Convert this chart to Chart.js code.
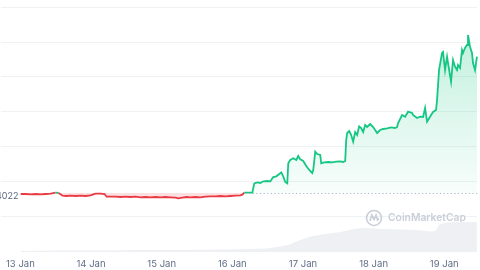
<!DOCTYPE html>
<html>
<head>
<meta charset="utf-8">
<script src="https://cdn.jsdelivr.net/npm/chart.js@4/dist/chart.umd.min.js"></script>
<style>
  html, body { margin: 0; padding: 0; background: #ffffff; }
  #wrap { width: 480px; height: 270px; position: relative; }
</style>
</head>
<body>
<div id="wrap"><canvas id="c" width="480" height="270"></canvas></div>
<script>
// ---- data (hours since 13 Jan 00:00) ----
const DAY_HOURS = [0, 24, 48, 72, 96, 120, 144];
const DAY_LABELS = ["13 Jan", "14 Jan", "15 Jan", "16 Jan", "17 Jan", "18 Jan", "19 Jan"];
const BASELINE_PRICE = 0.004022;
const BASELINE_LABEL = "0.004022";
const GRID_PRICES = [0.003953, 0.0040574, 0.0041618, 0.0042662, 0.0043706, 0.004475, 0.0045794];

const PRICE_HOURS = [
  0.1, 1.8, 3.49, 5.19, 6.89, 8.58, 10.28, 11.97, 12.99, 14.35,
  15.71, 17.06, 18.76, 20.45, 22.15, 23.85, 25.54, 27.24, 28.6, 29.27,
  30.63, 32.33, 34.02, 35.72, 37.42, 39.11, 40.81, 42.5, 44.2, 45.9,
  47.59, 49.29, 50.98, 52.68, 53.7, 55.06, 56.41, 57.77, 59.47, 61.16,
  62.86, 64.55, 66.25, 67.95, 69.64, 71.34, 73.03, 74.73, 75.41, 76.09,
  77.44, 78.8, 79.48, 80.5, 81.52, 82.53, 83.89, 84.91, 85.92, 86.94,
  87.96, 88.64, 89.32, 89.99, 90.67, 91.01, 91.69, 92.71, 93.73, 94.41,
  95.08, 96.1, 97.12, 98.14, 99.15, 99.49, 100.17, 100.85, 101.87, 102.21,
  103.22, 104.58, 105.94, 107.3, 108.65, 109.67, 110.35, 110.69, 111.03, 111.71,
  112.38, 113.06, 113.74, 114.42, 115.1, 115.78, 116.45, 117.13, 117.81, 118.83,
  119.85, 121.2, 122.22, 123.24, 124.6, 125.95, 127.31, 127.99, 128.33, 129.68,
  130.7, 131.72, 133.08, 133.41, 134.77, 135.79, 136.81, 137.49, 138.16, 138.5,
  139.18, 140.2, 141.22, 141.56, 142.23, 143.25, 143.59, 144.27, 144.95, 145.29,
  146.31, 146.99, 147.66, 148.34, 148.68, 149.36, 150.04, 150.38, 151.06, 151.74,
  152.07, 152.75, 153.43, 153.77, 154.45, 155.13, 155.47, 156.15
];
const PRICES = [
  0.004019, 0.004019, 0.004018, 0.004019, 0.004018, 0.004019, 0.004020, 0.004023, 0.004022, 0.004014,
  0.004013, 0.004014, 0.004013, 0.004014, 0.004013, 0.004015, 0.004020, 0.004020, 0.004019, 0.004011,
  0.004011, 0.004011, 0.004010, 0.004011, 0.004010, 0.004011, 0.004009, 0.004010, 0.004009, 0.004010,
  0.004009, 0.004010, 0.004009, 0.004008, 0.004006, 0.004008, 0.004010, 0.004009, 0.004010, 0.004009,
  0.004011, 0.004012, 0.004012, 0.004013, 0.004012, 0.004013, 0.004014, 0.004015, 0.004017, 0.004023,
  0.004023, 0.004023, 0.004051, 0.004054, 0.004052, 0.004057, 0.004058, 0.004057, 0.004070, 0.004072,
  0.004079, 0.004084, 0.004071, 0.004055, 0.004051, 0.004111, 0.004121, 0.004126, 0.004121, 0.004133,
  0.004123, 0.004118, 0.004103, 0.004091, 0.004082, 0.004091, 0.004146, 0.004139, 0.004136, 0.004111,
  0.004114, 0.004115, 0.004114, 0.004116, 0.004117, 0.004115, 0.004118, 0.004181, 0.004202, 0.004208,
  0.004196, 0.004176, 0.004205, 0.004196, 0.004222, 0.004217, 0.004205, 0.004226, 0.004220, 0.004229,
  0.004220, 0.004202, 0.004211, 0.004214, 0.004216, 0.004219, 0.004217, 0.004220, 0.004232, 0.004256,
  0.004251, 0.004266, 0.004262, 0.004256, 0.004247, 0.004251, 0.004250, 0.004277, 0.004236, 0.004241,
  0.004251, 0.004265, 0.004271, 0.004301, 0.004391, 0.004442, 0.004445, 0.004391, 0.004431, 0.004412,
  0.004356, 0.004421, 0.004401, 0.004391, 0.004406, 0.004397, 0.004451, 0.004442, 0.004457, 0.004466,
  0.004496, 0.004461, 0.004442, 0.004412, 0.004391, 0.004431, 0.004457, 0.004460
];

const VOLUME_HOURS = [0.1, 13.7, 27.2, 40.8, 54.4, 67.9, 78.1, 84.9, 90.7, 95.1, 99.5, 106.3, 108.7, 115.5, 123.2, 134.8, 140.9, 142.6, 149.4, 155.1];
const VOLUMES = [20000, 30000, 30000, 40000, 40000, 50000, 60000, 80000, 140000, 240000, 320000, 380000, 400000, 480000, 460000, 440000, 420000, 560000, 600000, 600000];

// ---- chart ----
const GREEN = '#16c784';
const RED = '#ea3943';

const cmcPlugin = {
  id: 'cmcExtras',
  beforeDatasetsDraw(chart) {
    const ctx = chart.ctx;
    // watermark
    ctx.save();
    const cx = 374, cy = 218, r = 7.5;
    ctx.strokeStyle = '#c9ced8';
    ctx.lineWidth = 1.6;
    ctx.beginPath(); ctx.arc(cx, cy, r, 0, Math.PI * 2); ctx.stroke();
    ctx.beginPath();
    ctx.moveTo(cx - 4, cy + 3);
    ctx.lineTo(cx - 2.2, cy - 3);
    ctx.lineTo(cx, cy + 1.5);
    ctx.lineTo(cx + 2, cy - 3);
    ctx.lineTo(cx + 3.5, cy + 2);
    ctx.lineTo(cx + 5, cy + 0.5);
    ctx.stroke();
    ctx.fillStyle = '#c9ced8';
    let fs = 12;
    ctx.font = '600 ' + fs + 'px Inter, sans-serif';
    const w = ctx.measureText('CoinMarketCap').width;
    fs = fs * 78 / w;
    ctx.font = '600 ' + fs.toFixed(2) + 'px Inter, sans-serif';
    ctx.textBaseline = 'middle';
    ctx.textAlign = 'left';
    ctx.fillText('CoinMarketCap', 388, cy);
    ctx.restore();
  },
  afterDatasetsDraw(chart) {
    const ctx = chart.ctx;
    const y = chart.scales.y;
    const area = chart.chartArea;
    const by = Math.round(y.getPixelForValue(BASELINE_PRICE)) + 0.5;
    ctx.save();
    // dotted baseline (right of the red section)
    ctx.strokeStyle = '#aeb6c4';
    ctx.lineWidth = 1;
    ctx.setLineDash([1.2, 2.4]);
    ctx.beginPath();
    ctx.moveTo(chart.scales.x.getPixelForValue(76.5), by);
    ctx.lineTo(area.right, by);
    ctx.stroke();
    ctx.setLineDash([]);
    // baseline label
    ctx.fillStyle = '#58667e';
    ctx.font = '9px Inter, sans-serif';
    ctx.textAlign = 'right';
    ctx.textBaseline = 'middle';
    ctx.fillText(BASELINE_LABEL, 18.5, by + 2.5);
    ctx.restore();
  }
};

const ctx = document.getElementById('c').getContext('2d');
new Chart(ctx, {
  type: 'line',
  data: {
    datasets: [
      {
        label: 'Price',
        data: PRICE_HOURS.map((h, i) => ({ x: h, y: PRICES[i] })),
        yAxisID: 'y',
        borderWidth: 1.8,
        pointRadius: 0,
        tension: 0,
        clip: false,
        borderColor: GREEN,
        segment: {
          borderColor: c => ((c.p0.parsed.y + c.p1.parsed.y) / 2 >= BASELINE_PRICE ? GREEN : RED)
        },
        backgroundColor: (c) => {
          const chart = c.chart;
          const area = chart.chartArea;
          if (!area) return 'rgba(22,199,132,0.15)';
          const ys = chart.scales.y;
          const g = chart.ctx.createLinearGradient(0, ys.getPixelForValue(0.0045), 0, ys.getPixelForValue(BASELINE_PRICE));
          g.addColorStop(0, 'rgba(22,199,132,0.26)');
          g.addColorStop(1, 'rgba(22,199,132,0.03)');
          return g;
        },
        fill: { target: { value: BASELINE_PRICE }, below: 'rgba(234,57,67,0.16)' },
        order: 1
      },
      {
        label: 'Volume',
        data: VOLUME_HOURS.map((h, i) => ({ x: h, y: VOLUMES[i] })),
        yAxisID: 'yv',
        borderWidth: 0,
        pointRadius: 0,
        tension: 0.3,
        backgroundColor: '#eef0f4',
        fill: 'origin',
        order: 2
      }
    ]
  },
  options: {
    responsive: false,
    animation: false,
    layout: { padding: { left: 0, right: 3, top: 0, bottom: 0 } },
    plugins: { legend: { display: false }, tooltip: { enabled: false } },
    scales: {
      x: {
        type: 'linear',
        min: -6.68,
        max: 155.13,
        grid: { display: false, drawTicks: false },
        border: { display: false },
        afterBuildTicks: s => { s.ticks = DAY_HOURS.map(v => ({ value: v })); },
        afterFit: s => { s.height = 18; },
        ticks: {
          autoSkip: false,
          maxRotation: 0,
          padding: 6,
          color: '#616e85',
          font: { family: 'Inter, sans-serif', size: 9.5 },
          callback: (v) => { const i = DAY_HOURS.indexOf(v); return i >= 0 ? DAY_LABELS[i] : ''; }
        }
      },
      y: {
        position: 'left',
        min: 0.003845,
        max: 0.004601,
        afterBuildTicks: s => { s.ticks = GRID_PRICES.map(v => ({ value: v })); },
        afterFit: s => { s.width = 0; },
        grid: { color: '#eff2f5', lineWidth: 1, drawTicks: false },
        border: { display: false },
        ticks: { display: false }
      },
      yv: {
        display: false,
        min: 0,
        max: 5040000
      }
    }
  },
  plugins: [cmcPlugin]
});
</script>
</body>
</html>
